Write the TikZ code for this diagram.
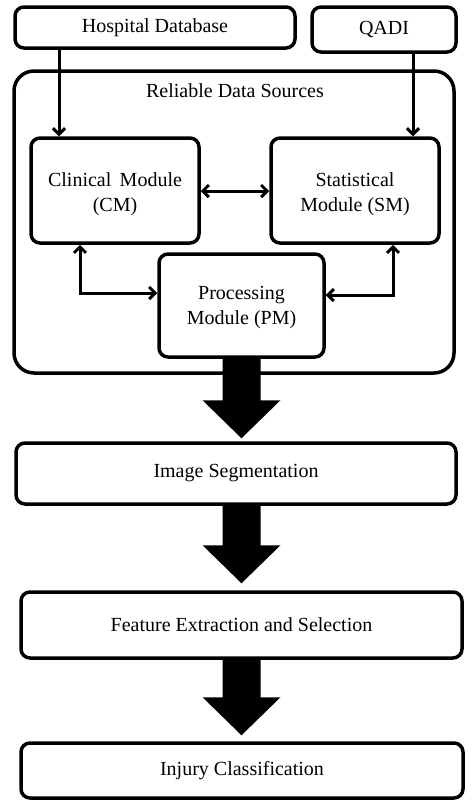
\documentclass[tikz,border=0pt]{standalone}
\usepackage{fontspec}
\setmainfont{Liberation Serif}
\usetikzlibrary{arrows.meta,calc}
\tikzset{
  box/.style={draw, line width=3.5pt, rounded corners=9pt, align=center, inner sep=0pt,
    font=\fontsize{20}{25}\selectfont},
  conn/.style={line width=3pt, {Straight Barb[length=6pt,width=12pt,line width=3pt]}-{Straight Barb[length=6pt,width=12pt,line width=3pt]}},
  one/.style={line width=3pt, -{Straight Barb[length=6pt,width=12pt,line width=3pt]}},
}
\newcommand\blockarrow[2]{%
  \fill let \p1=(#1), \p2=(#2) in
    (\x1-19pt,\y1) -- (\x1-19pt,\y2+38pt) -- (\x1-39pt,\y2+38pt) -- (\x1,\y2)
    -- (\x1+39pt,\y2+38pt) -- (\x1+19pt,\y2+38pt) -- (\x1+19pt,\y1) -- cycle;}
\newcommand\upstrut[1]{\rule{0pt}{#1}}
\begin{document}
\begin{tikzpicture}[x=1pt,y=-1pt]
\useasboundingbox (0,0) rectangle (474,801);
% outer box
\node[box, rounded corners=20pt, minimum width=440pt, minimum height=302pt] (outer) at (234,222) {};
\node[font=\fontsize{20}{25}\selectfont] (rds) at (235,91) {Reliable Data Sources};
\node[box, minimum width=280pt, minimum height=41pt] (hd) at (155,27.5) {Hospital Database};
\node[box, minimum width=144pt, minimum height=45pt] (qadi) at (384,29.5) {QADI};
\node[box, minimum width=168pt, minimum height=105pt] (cm) at (115,190.5) {\upstrut{22pt}Clinical\, Module\\(CM)};
\node[box, minimum width=168pt, minimum height=105pt] (sm) at (355,190.5) {\upstrut{22pt}Statistical\\Module (SM)};
\node[box, minimum width=165pt, minimum height=103pt] (pm) at (241.5,305.5) {\upstrut{18pt}Processing\\Module (PM)};
\node[box, minimum width=440pt, minimum height=61pt] (is) at (236,473.5) {Image Segmentation};
\node[box, minimum width=441pt, minimum height=66pt] (fe) at (241.5,625) {Feature Extraction and Selection};
\node[box, minimum width=442pt, minimum height=55pt] (ic) at (242,770.5) {Injury Classification};
% thin arrows
\draw[one] (hd.south -| 59,0) -- (cm.north -| 59,0);
\draw[one] (qadi.south -| 413,0) -- (sm.north -| 413,0);
\draw[conn] (cm.east |- 0,191) -- (sm.west |- 0,191);
\draw[conn] (cm.south -| 80,0) |- (pm.west |- 0,293);
\draw[conn] (sm.south -| 393,0) |- (pm.east |- 0,295);
% block arrows
\blockarrow{pm.south}{[yshift=3pt]is.north -| pm.south}
\blockarrow{is.south -| pm.south}{[yshift=7pt]fe.north -| pm.south}
\blockarrow{fe.south -| pm.south}{[yshift=6pt]ic.north -| pm.south}
\end{tikzpicture}
\end{document}
